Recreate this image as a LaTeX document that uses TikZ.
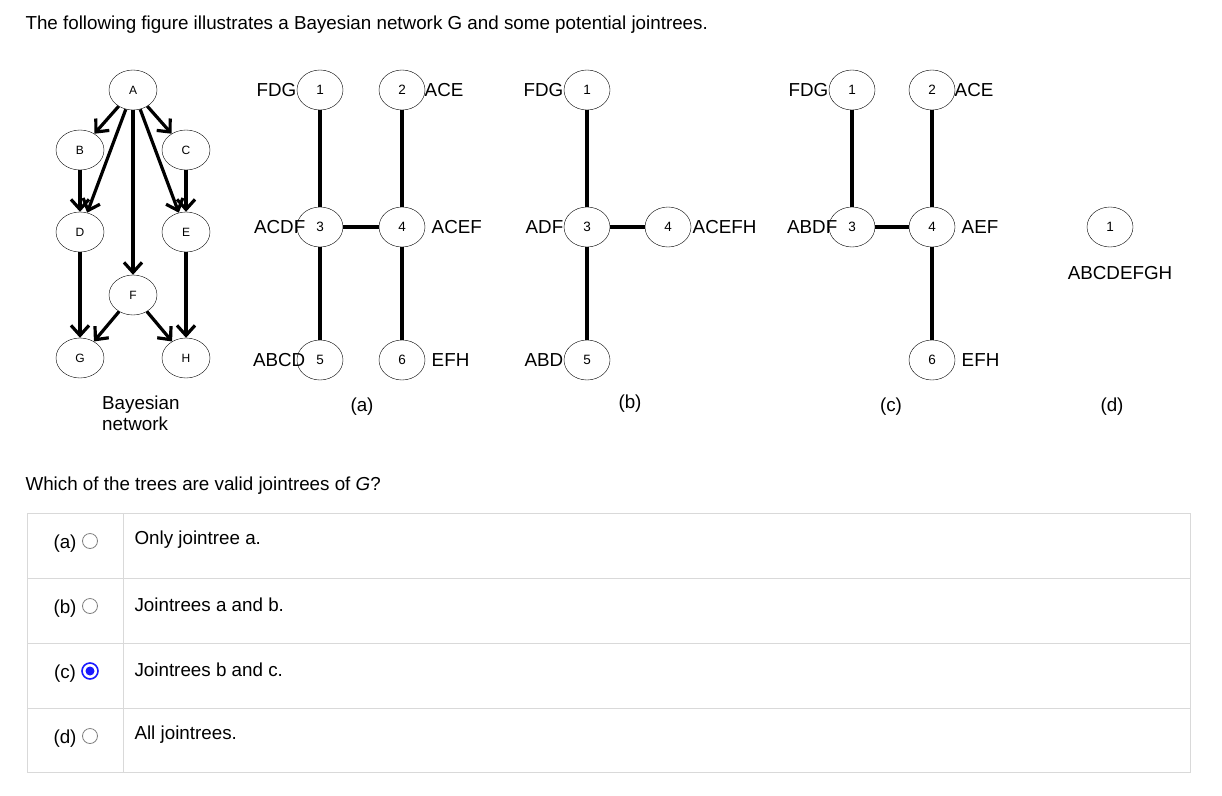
\documentclass[tikz,border=0pt]{standalone}
\usepackage{fontspec}
\setmainfont{Liberation Sans}
\usetikzlibrary{arrows.meta, shapes.geometric}
\tikzset{
  bnode/.style={draw, thin, ellipse, minimum width=48pt, minimum height=40pt, inner sep=0pt, font=\fontsize{12}{13}\selectfont},
  jnode/.style={draw, thin, ellipse, minimum width=46pt, minimum height=40pt, inner sep=0pt, font=\fontsize{13.5}{14}\selectfont},
  barrow/.style={line width=3.2pt, -{Straight Barb[length=10pt, width=18pt, line width=3.2pt]}},
  jedge/.style={line width=3.5pt},
  lbl/.style={font=\fontsize{18.8}{21}\selectfont},
  radio/.style={draw=gray, thick, circle, minimum size=15pt, inner sep=0pt}
}
\begin{document}
\begin{tikzpicture}[x=1pt, y=-1pt]
		\useasboundingbox (0,0) rectangle (1222,795);
		\fill[white] (0,0) rectangle (1222,795);
		\node[lbl, anchor=west] at (22,25) {The following figure illustrates a Bayesian network G and some potential jointrees.};
		% Bayesian network
		\node[bnode] (A) at (133,90) {A};
		\node[bnode] (B) at (80,150) {B};
		\node[bnode] (C) at (186,150) {C};
		\node[bnode] (D) at (80,232) {D};
		\node[bnode] (E) at (186,232) {E};
		\node[bnode] (F) at (133,295) {F};
		\node[bnode] (G) at (80,358) {G};
		\node[bnode] (H) at (186,358) {H};
		\foreach \s/\t in {A/B, A/C, A/D, A/E, A/F, B/D, C/E, D/G, E/H, F/G, F/H}
			\draw[barrow] (\s) -- (\t);
		% jointree (a)
		\node[jnode] (a1) at (320,90) {1};
		\node[jnode] (a2) at (402,90) {2};
		\node[jnode] (a3) at (320,227) {3};
		\node[jnode] (a4) at (402,227) {4};
		\node[jnode] (a5) at (320,360) {5};
		\node[jnode] (a6) at (402,360) {6};
		\foreach \s/\t in {a1/a3, a2/a4, a3/a4, a3/a5, a4/a6}
			\draw[jedge] (\s) -- (\t);
		\node[lbl, anchor=east] at (a1.west) [xshift=3pt] {FDG};
		\node[lbl, anchor=west] at (a2.east) [xshift=-4pt] {ACE};
		\node[lbl, anchor=east] at (a3.west) [xshift=12pt] {ACDF};
		\node[lbl, anchor=west] at (a4.east) [xshift=3pt] {ACEF};
		\node[lbl, anchor=east] at (a5.west) [xshift=12pt] {ABCD};
		\node[lbl, anchor=west] at (a6.east) [xshift=3pt] {EFH};
		% jointree (b)
		\node[jnode] (b1) at (587,90) {1};
		\node[jnode] (b3) at (587,227) {3};
		\node[jnode] (b4) at (668,227) {4};
		\node[jnode] (b5) at (587,360) {5};
		\foreach \s/\t in {b1/b3, b3/b4, b3/b5}
			\draw[jedge] (\s) -- (\t);
		\node[lbl, anchor=east] at (b1.west) [xshift=3pt] {FDG};
		\node[lbl, anchor=east] at (b3.west) [xshift=3pt] {ADF};
		\node[lbl, anchor=west] at (b4.east) [xshift=-2pt] {ACEFH};
		\node[lbl, anchor=east] at (b5.west) [xshift=3pt] {ABD};
		% jointree (c)
		\node[jnode] (c1) at (852,90) {1};
		\node[jnode] (c2) at (932,90) {2};
		\node[jnode] (c3) at (852,227) {3};
		\node[jnode] (c4) at (932,227) {4};
		\node[jnode] (c6) at (932,360) {6};
		\foreach \s/\t in {c1/c3, c2/c4, c3/c4, c4/c6}
			\draw[jedge] (\s) -- (\t);
		\node[lbl, anchor=east] at (c1.west) [xshift=3pt] {FDG};
		\node[lbl, anchor=west] at (c2.east) [xshift=-4pt] {ACE};
		\node[lbl, anchor=east] at (c3.west) [xshift=12pt] {ABDF};
		\node[lbl, anchor=west] at (c4.east) [xshift=3pt] {AEF};
		\node[lbl, anchor=west] at (c6.east) [xshift=3pt] {EFH};
		% jointree (d)
		\node[jnode] (d1) at (1110,227) {1};
		\node[lbl] at (1120,273) {ABCDEFGH};
		% captions
		\node[lbl, anchor=north west, align=left, inner sep=0pt] (bncap) at (102,396) {Bayesian\\network};
		\node[lbl] at (362,407) {(a)};
		\node[lbl] at (630,404) {(b)};
		\node[lbl] at (891,407) {(c)};
		\node[lbl] at (1112,407) {(d)};
		% question
		\node[lbl, anchor=west] at (22,486) {Which of the trees are valid jointrees of \textit{G}?};
		\draw[gray!30, thick] (27,513) rectangle (1190,772);
		\foreach \y in {578, 643, 708}
			\draw[gray!30, thick] (27,\y) -- (1190,\y);
		\draw[gray!30, thick] (123,513) -- (123,772);
		\foreach \k/\txt [count=\i from 0] in {a/Only jointree a., b/Jointrees a and b., c/Jointrees b and c., d/All jointrees.} {
			\node[lbl] at (65,{544+65*\i}) {(\k)};
			\node[radio] (r\k) at (90,{541+65*\i}) {};
			\node[lbl, anchor=west] at (131,{540+65*\i}) {\txt};
		}
		\node[draw=blue!90, line width=1.6pt, circle, minimum size=16pt, inner sep=0pt, fill=white] at (rc) {};
		\fill[blue!90] (rc) circle [radius=4.5pt];
	\end{tikzpicture}
\end{document}
